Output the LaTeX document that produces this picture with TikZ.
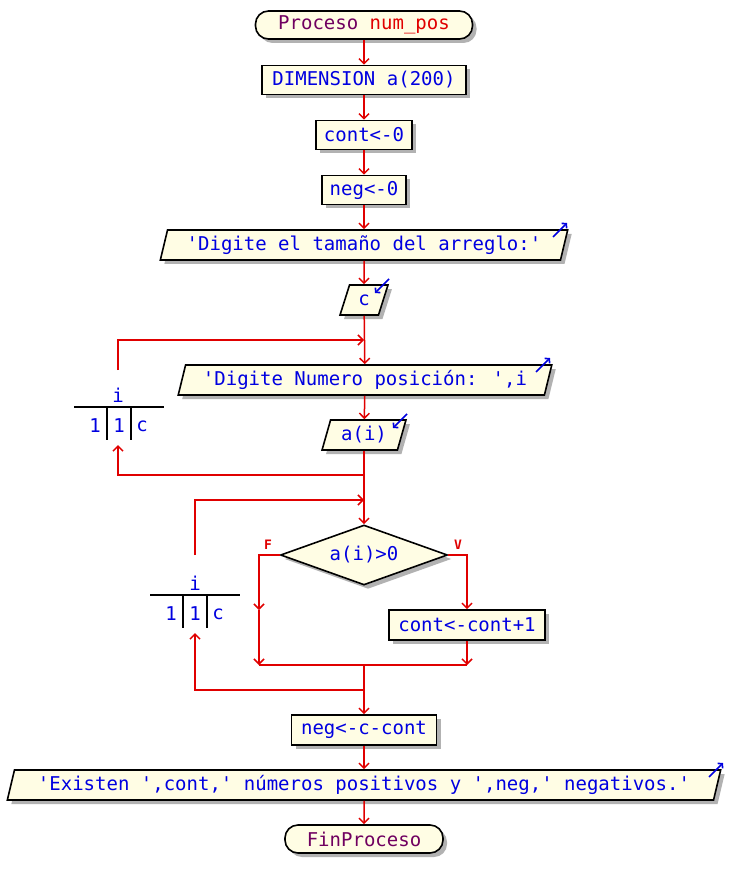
\documentclass[tikz,border=0pt]{standalone}
\usepackage{fontspec}
\setmainfont{DejaVu Sans Mono}
\usetikzlibrary{shapes.geometric,shadows,arrows.meta}
\definecolor{cream}{HTML}{FFFDE4}
\definecolor{fl}{HTML}{E00000}
\definecolor{tx}{HTML}{0000E0}
\definecolor{pu}{HTML}{700060}
\newcommand\qq{\textquotesingle}
\begin{document}
\begin{tikzpicture}[x=1pt,y=-1pt,
  every node/.style={font=\fontsize{19}{21}\selectfont, text=tx, inner sep=0pt},
  sh/.style={drop shadow={shadow xshift=4pt,shadow yshift=-4pt,fill=black!30,opacity=1}},
  box/.style={draw=black,line width=1.6pt,fill=cream,sh,minimum height=29pt},
  term/.style={box,rounded corners=13pt,minimum height=28pt},
  para/.style={box,trapezium,trapezium left angle=71,trapezium right angle=109,trapezium stretches=true,minimum height=30pt},
  dia/.style={box,diamond,aspect=2.8,minimum width=167pt,minimum height=60pt},
  fc/.style={draw=fl,line width=1.5pt},
  ar/.style={fc,-{Straight Barb[length=5pt,width=10pt]}},
  ic/.style={draw=tx,line width=1.6pt,-{Straight Barb[length=3pt,width=7pt]}},
  lbl/.style={text=fl,font=\fontsize{13}{14}\selectfont\bfseries}]
\useasboundingbox (0,0) rectangle (728,890);
\fill[white] (0,0) rectangle (728,890);
% nodes
\node[term,minimum width=217pt] (ini) at (364,25) {\textcolor{pu}{Proceso} \textcolor{fl}{num\_pos}};
\node[box,minimum width=204pt] (dim) at (364,80) {DIMENSION a(200)};
\node[box,minimum width=96pt] (c0) at (364,135) {cont<-0};
\node[box,minimum width=84pt] (n0) at (364,190) {neg<-0};
\node[para,minimum width=408pt] (o1) at (364,245) {\qq Digite el tamaño del arreglo:\qq};
\node[para,minimum width=48pt] (i1) at (364,300) {c};
\node[para,minimum width=374pt] (o2) at (365,380) {\qq Digite Numero posición: \qq,i};
\node[para,minimum width=84pt] (i2) at (364,435) {a(i)};
\node[dia] (d) at (364,555) {a(i)>0};
\node[box,minimum width=156pt,minimum height=30pt] (inc) at (467,625) {cont<-cont+1};
\node[box,minimum width=145pt,minimum height=30pt] (neg) at (364,730) {neg<-c-cont};
\node[para,minimum width=717pt] (o3) at (364,785) {\qq Existen \qq,cont,\qq{} números positivos y \qq,neg,\qq{} negativos.\qq};
\node[term,minimum width=158pt] (fin) at (364,839) {\textcolor{pu}{FinProceso}};
% icons
\draw[ic] (553,237) -- (567,223);
\draw[ic] (389,279) -- (375,293);
\draw[ic] (536,372) -- (550,358);
\draw[ic] (407,414) -- (393,428);
\draw[ic] (709,777) -- (723,763);
% loop symbols
\node (l1i) at (118,395) {i};
\draw[line width=1.6pt] (74,407) -- (164,407) (107,407) -- (107,440) (131,407) -- (131,440);
\node (l1a) at (95,426) {1}; \node (l1b) at (119,426) {1}; \node (l1c) at (142,426) {c};
\node (l2i) at (195,583) {i};
\draw[line width=1.6pt] (150,595) -- (240,595) (183,595) -- (183,628) (207,595) -- (207,628);
\node (l2a) at (171,614) {1}; \node (l2b) at (195,614) {1}; \node (l2c) at (218,614) {c};
\node[lbl] (F) at (268,545) {F};
\node[lbl] (V) at (458,545) {V};
% coordinates
\coordinate (t1) at (364,340); \coordinate (e1) at (364,475);
\coordinate (t2) at (364,500); \coordinate (j) at (364,665); \coordinate (e2) at (364,690);
\coordinate (L1t) at (118,340); \coordinate (L1s) at (118,370); \coordinate (L1b) at (118,445); \coordinate (L1e) at (118,475);
\coordinate (L2t) at (195,500); \coordinate (L2s) at (195,555); \coordinate (L2b) at (195,633); \coordinate (L2e) at (195,690);
\coordinate (fl) at (259,555); \coordinate (fm) at (259,610); \coordinate (fj) at (259,665);
\coordinate (vr) at (467,555); \coordinate (vj) at (467,665);
% connectors
\draw[ar] (ini) -- (dim);
\draw[ar] (dim) -- (c0);
\draw[ar] (c0) -- (n0);
\draw[ar] (n0) -- (o1);
\draw[ar] (o1) -- (i1);
\draw[ar] (i1) -- (o2);
\draw[ar] (L1s) -- (L1t) -- (t1);
\draw[ar] (o2) -- (i2);
\draw[fc] (i2) -- (e1);
\draw[ar] (e1) -- (L1e) -- (L1b);
\draw[ar] (e1) -- (d);
\draw[ar] (L2s) -- (L2t) -- (t2);
\draw[ar] (d.west) -- (fl) -- (fm);
\draw[ar] (fm) -- (fj);
\draw[ar] (d.east) -- (vr) -- (inc);
\draw[ar] (inc) -- (vj);
\draw[fc] (fj) -- (vj);
\draw[fc] (j) -- (e2);
\draw[ar] (e2) -- (L2e) -- (L2b);
\draw[ar] (e2) -- (neg);
\draw[ar] (neg) -- (o3);
\draw[ar] (o3) -- (fin);
\end{tikzpicture}
\end{document}
